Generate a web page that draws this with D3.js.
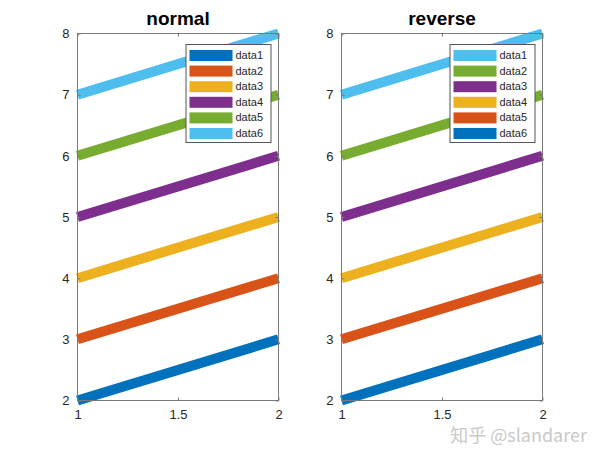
<!DOCTYPE html>
<html>
<head>
<meta charset="utf-8">
<script src="https://cdn.jsdelivr.net/npm/d3@7"></script>
<style>
	body { margin: 0; background: #fff; }
	text { font-family: "Liberation Sans", Arial, sans-serif; }
</style>
</head>
<body>
<div id="viz"></div>
<script>
// chart data
var xValues = [1, 2];
var seriesNames = ['data1', 'data2', 'data3', 'data4', 'data5', 'data6'];
var seriesValues = [[2, 3], [3, 4], [4, 5], [5, 6], [6, 7], [7, 8]];
var panelTitles = ['normal', 'reverse'];
var xTicks = [1, 1.5, 2];
var yTicks = [2, 3, 4, 5, 6, 7, 8];

var lineColors = ['#0072BD', '#D95319', '#EDB120', '#7E2F8E', '#77AC30', '#4DBEEE'];

buildViz();

function buildViz(){

	var width = 600,
		height = 450,
		axisColor = '#7a7a7a',
		textColor = '#262626',
		lineWidth = 10;

	var svg = d3.select('#viz')
		.append('svg')
		.attr('width', width)
		.attr('height', height);

	// two subplots, same position as matlab's subplot(1,2,k)
	var panels = [
		{ left: 77.5, title: panelTitles[0], reverse: false },
		{ left: 341.5, title: panelTitles[1], reverse: true }
	];
	var plotW = 201,
		top = 33.5,
		bottom = 400.5;

	var plain = function(d){ return String(d); };

	panels.forEach(function(p){

		var x = d3.scaleLinear().domain([1, 2]).range([p.left, p.left + plotW]);
		var y = d3.scaleLinear().domain([2, 8]).range([bottom, top]);

		var g = svg.append('g');

		// lines; in reverse panel the series order (and colours) are flipped
		var order = seriesValues.map(function(d, i){ return i; });
		if (p.reverse) order.reverse();

		var lines = order.map(function(idx, k){
			return { name: seriesNames[k], values: seriesValues[idx], color: lineColors[idx] };
		});

		var lineGen = d3.line()
			.x(function(d, i){ return x(xValues[i]); })
			.y(function(d){ return y(d); });

		g.selectAll('.series')
			.data(lines)
			.enter().append('path')
				.attr('class', 'series')
				.attr('d', function(d){ return lineGen(d.values); })
				.style('fill', 'none')
				.style('stroke', function(d){ return d.color; })
				.style('stroke-width', lineWidth)
				.style('stroke-linecap', 'butt');

		// box
		g.append('rect')
			.attr('x', x(1))
			.attr('y', top)
			.attr('width', plotW)
			.attr('height', bottom - top)
			.style('fill', 'none')
			.style('stroke', axisColor)
			.style('stroke-width', 1);

		// axes, ticks pointing inwards
		var xAxis = g.append('g')
			.attr('transform', 'translate(0,' + bottom + ')')
			.call(d3.axisBottom(x).tickValues(xTicks).tickSize(-3).tickPadding(9).tickFormat(plain));
		var xAxisTop = g.append('g')
			.attr('transform', 'translate(0,' + top + ')')
			.call(d3.axisTop(x).tickValues(xTicks).tickSize(-3).tickFormat(''));
		var yAxis = g.append('g')
			.attr('transform', 'translate(' + x(1) + ',0)')
			.call(d3.axisLeft(y).tickValues(yTicks).tickSize(-3).tickPadding(8).tickFormat(plain));
		var yAxisRight = g.append('g')
			.attr('transform', 'translate(' + x(2) + ',0)')
			.call(d3.axisRight(y).tickValues(yTicks).tickSize(-3).tickFormat(''));

		[xAxis, xAxisTop, yAxis, yAxisRight].forEach(function(a){
			a.select('.domain').remove();
			a.selectAll('line').style('stroke', axisColor);
			a.selectAll('text')
				.style('font-size', '13px')
				.style('font-family', '"Liberation Sans", Arial, sans-serif')
				.style('fill', textColor);
		});

		// title
		g.append('text')
			.attr('x', p.left + plotW / 2)
			.attr('y', 25)
			.attr('text-anchor', 'middle')
			.style('font-size', '19px')
			.style('font-weight', 'bold')
			.style('fill', '#000')
			.text(p.title);

		// legend
		var legend = g.append('g')
			.attr('transform', 'translate(' + (p.left + 108) + ',44)');

		legend.append('rect')
			.attr('x', 0.5)
			.attr('y', 0.5)
			.attr('width', 85)
			.attr('height', 98)
			.style('fill', '#fff')
			.style('stroke', '#555')
			.style('stroke-width', 1);

		var rows = legend.selectAll('.legend-row')
			.data(lines)
			.enter().append('g')
				.attr('class', 'legend-row')
				.attr('transform', function(d, i){ return 'translate(0,' + (11 + i * 15.6) + ')'; });

		rows.append('rect')
			.attr('x', 4)
			.attr('y', -5)
			.attr('width', 43)
			.attr('height', 11)
			.style('fill', function(d){ return d.color; });

		rows.append('text')
			.attr('x', 50)
			.attr('y', 4)
			.style('font-size', '11px')
			.style('fill', textColor)
			.text(function(d){ return d.name; });
	});

	// watermark
	svg.append('text')
		.attr('x', 587)
		.attr('y', 442)
		.attr('text-anchor', 'end')
		.style('font-family', '"Noto Sans CJK SC", "Noto Sans", sans-serif')
		.style('font-size', '18px')
		.style('fill', '#c9c9c9')
		.text('知乎 @slandarer');
}
</script>
</body>
</html>
